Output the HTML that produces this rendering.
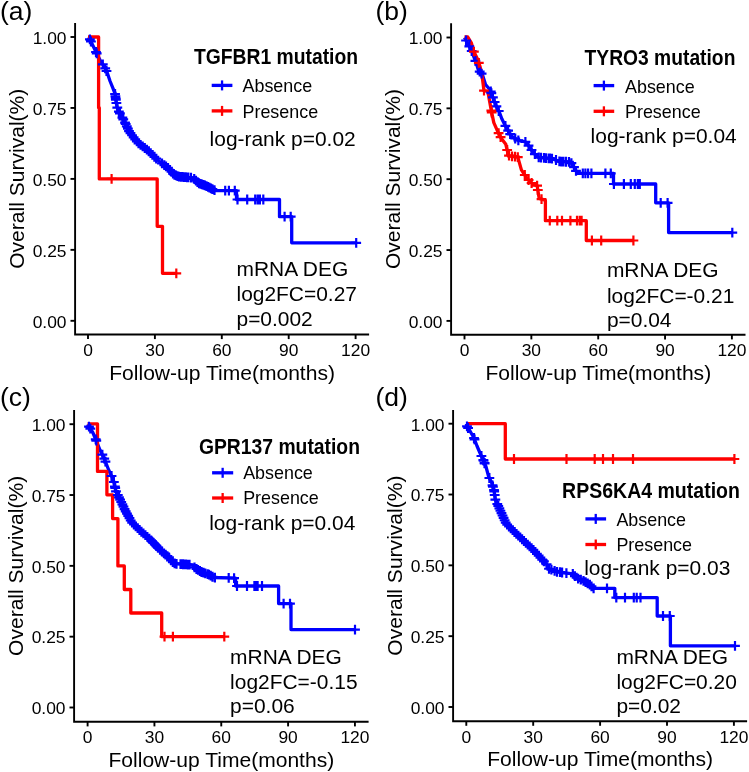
<!DOCTYPE html>
<html><head><meta charset="utf-8"><style>
html,body{margin:0;padding:0;background:#fff;width:749px;height:772px;overflow:hidden}
svg{display:block;filter:blur(0.35px)}
text{font-family:"Liberation Sans",sans-serif;fill:#000}
.tk{font-size:17.4px}
.ax{font-size:21.05px}
.lb{font-size:26.5px}
.tt{font-size:22.2px;font-weight:bold}
.lg{font-size:17.9px}
.an{font-size:20.95px}
</style></head><body>
<svg width="749" height="772" viewBox="0 0 749 772">
<rect width="749" height="772" fill="#fff"/>
<path d="M75.1,23V334.5H369.1" fill="none" stroke="#000" stroke-width="1.9" stroke-linejoin="miter"/>
<path d="M70.5,320.8H75.1" stroke="#000" stroke-width="1.9"/>
<text x="66.5" y="327.6" text-anchor="end" class="tk">0.00</text>
<path d="M70.5,249.85H75.1" stroke="#000" stroke-width="1.9"/>
<text x="66.5" y="256.65" text-anchor="end" class="tk">0.25</text>
<path d="M70.5,178.9H75.1" stroke="#000" stroke-width="1.9"/>
<text x="66.5" y="185.7" text-anchor="end" class="tk">0.50</text>
<path d="M70.5,107.95H75.1" stroke="#000" stroke-width="1.9"/>
<text x="66.5" y="114.75" text-anchor="end" class="tk">0.75</text>
<path d="M70.5,37H75.1" stroke="#000" stroke-width="1.9"/>
<text x="66.5" y="43.8" text-anchor="end" class="tk">1.00</text>
<path d="M88,334.5V339.1" stroke="#000" stroke-width="1.9"/>
<text x="88" y="355.9" text-anchor="middle" class="tk">0</text>
<path d="M154.9,334.5V339.1" stroke="#000" stroke-width="1.9"/>
<text x="154.9" y="355.9" text-anchor="middle" class="tk">30</text>
<path d="M221.8,334.5V339.1" stroke="#000" stroke-width="1.9"/>
<text x="221.8" y="355.9" text-anchor="middle" class="tk">60</text>
<path d="M288.7,334.5V339.1" stroke="#000" stroke-width="1.9"/>
<text x="288.7" y="355.9" text-anchor="middle" class="tk">90</text>
<path d="M355.6,334.5V339.1" stroke="#000" stroke-width="1.9"/>
<text x="355.6" y="355.9" text-anchor="middle" class="tk">120</text>
<text x="222.1" y="379.5" text-anchor="middle" class="ax">Follow-up Time(months)</text>
<text transform="translate(23.5,178.75) rotate(-90)" x="0" y="0" text-anchor="middle" class="ax">Overall Survival(%)</text>
<text x="-0.1" y="20.3" class="lb">(a)</text>
<path d="M88,37.2 L89.5,38.5 L96,52 L101,62 L104,66 L107,72 L110,81 L113,88.4 L115,93.7 L116.4,103 L117.7,109.7 L121.7,116.4 L125.7,124 L129.3,131.7 L138,143 L148,150.4 L158,160.4 L168.5,168.2 L173.9,174.6 L179.2,176.7 L193.1,177.8 L198.5,183.1 L204.9,185.3 L211.3,188.5 L215.6,190.6 L236.5,190.6 L236.5,199.5 L279.5,199.5 L279.5,216.7 L291.7,216.7 L291.7,242.8 L356.2,242.8" fill="none" stroke="#0000ff" stroke-width="3.3" stroke-linejoin="round" stroke-linecap="butt"/>
<path d="M88,37 L98.6,37 L98.6,107.7 L99.3,107.7 L99.3,178.9 L157.2,178.9 L157.2,226.3 L162.5,226.3 L162.5,273.3 L176.3,273.3" fill="none" stroke="#ff0000" stroke-width="3.3" stroke-linejoin="round" stroke-linecap="butt"/>
<path d="M232.6,199.5h9.8M237.5,194.6v9.8M242.3,199.5h9.8M247.2,194.6v9.8M250.3,199.5h9.8M255.2,194.6v9.8M252.8,199.5h9.8M257.7,194.6v9.8M255,199.5h9.8M259.9,194.6v9.8M258.4,199.5h9.8M263.3,194.6v9.8M279.7,216.7h9.8M284.6,211.8v9.8M285.8,216.7h9.8M290.7,211.8v9.8M351.3,242.8h9.8M356.2,237.9v9.8M84.99,39.3h9.8M89.89,34.4v9.8M86.04,41.5h9.8M90.94,36.6v9.8M91.1,52h9.8M96,47.1v9.8M91.8,53.4h9.8M96.7,48.5v9.8M97.9,64.4h9.8M102.8,59.5v9.8M100.3,68.4h9.8M105.2,63.5v9.8M101.6,71h9.8M106.5,66.1v9.8M110.15,94h9.8M115.05,89.1v9.8M110.51,96.4h9.8M115.41,91.5v9.8M110.85,98.7h9.8M115.75,93.8v9.8M111,99.7h9.8M115.9,94.8v9.8M111.5,103h9.8M116.4,98.1v9.8M112.41,107.7h9.8M117.31,102.8v9.8M113.99,111.7h9.8M118.89,106.8v9.8M115.01,113.4h9.8M119.91,108.5v9.8M117.48,117.7h9.8M122.38,112.8v9.8M118.38,119.4h9.8M123.28,114.5v9.8M120.12,122.7h9.8M125.02,117.8v9.8M157.1,163.37h9.8M162,158.47v9.8M159.4,165.08h9.8M164.3,160.18v9.8M161.1,166.34h9.8M166,161.44v9.8M163.1,167.83h9.8M168,162.93v9.8M165.1,169.98h9.8M170,165.08v9.8M166.6,171.76h9.8M171.5,166.86v9.8M168.1,173.53h9.8M173,168.63v9.8M169.6,174.84h9.8M174.5,169.94v9.8M171.1,175.43h9.8M176,170.53v9.8M172.6,176.03h9.8M177.5,171.13v9.8M174.1,176.62h9.8M179,171.72v9.8M176.1,176.84h9.8M181,171.94v9.8M177.5,176.95h9.8M182.4,172.05v9.8M179.1,177.08h9.8M184,172.18v9.8M180.7,177.21h9.8M185.6,172.31v9.8M182.1,177.32h9.8M187,172.42v9.8M183.4,177.42h9.8M188.3,172.52v9.8M186.1,177.63h9.8M191,172.73v9.8M189.3,178.88h9.8M194.2,173.98v9.8M191.1,180.65h9.8M196,175.75v9.8M192.6,182.12h9.8M197.5,177.22v9.8M194.1,183.27h9.8M199,178.37v9.8M195.7,183.82h9.8M200.6,178.92v9.8M197.1,184.3h9.8M202,179.4v9.8M198.6,184.82h9.8M203.5,179.92v9.8M200,185.3h9.8M204.9,180.4v9.8M201.6,186.1h9.8M206.5,181.2v9.8M203.2,186.9h9.8M208.1,182v9.8M204.6,187.6h9.8M209.5,182.7v9.8M206.1,188.35h9.8M211,183.45v9.8M207.5,189.04h9.8M212.4,184.14v9.8M209.6,190.06h9.8M214.5,185.16v9.8M220.3,190.6h9.8M225.2,185.7v9.8M224,190.6h9.8M228.9,185.7v9.8M229.9,190.6h9.8M234.8,185.7v9.8M120.8,124h9.8M125.7,119.1v9.8M121.9,126.36h9.8M126.8,121.46v9.8M123,128.71h9.8M127.9,123.81v9.8M124.1,131.07h9.8M129,126.17v9.8M125.56,133.21h9.8M130.46,128.31v9.8M127.15,135.27h9.8M132.05,130.37v9.8M128.73,137.33h9.8M133.63,132.43v9.8M130.32,139.39h9.8M135.22,134.49v9.8M131.9,141.45h9.8M136.8,136.55v9.8M133.61,143.38h9.8M138.51,138.48v9.8M135.7,144.93h9.8M140.6,140.03v9.8M137.79,146.47h9.8M142.69,141.57v9.8M139.88,148.02h9.8M144.78,143.12v9.8M141.97,149.57h9.8M146.87,144.67v9.8M143.95,151.25h9.8M148.85,146.35v9.8M145.79,153.09h9.8M150.69,148.19v9.8M147.62,154.92h9.8M152.52,150.02v9.8M149.46,156.76h9.8M154.36,151.86v9.8M151.3,158.6h9.8M156.2,153.7v9.8" fill="none" stroke="#0000ff" stroke-width="2.2"/>
<path d="M106.7,178.9h9.8M111.6,174v9.8M171.4,273.3h9.8M176.3,268.4v9.8" fill="none" stroke="#ff0000" stroke-width="2.2"/>
<text x="193.9" y="63.5" class="tt" textLength="164.2" lengthAdjust="spacingAndGlyphs">TGFBR1 mutation</text>
<path d="M211.7,85.4H232.4" stroke="#0000ff" stroke-width="3.3" fill="none"/><path d="M222.05,80.4v10" stroke="#0000ff" stroke-width="2.3" fill="none"/>
<text x="242.5" y="92.1" class="lg">Absence</text>
<path d="M211.7,110.9H232.4" stroke="#ff0000" stroke-width="3.3" fill="none"/><path d="M222.05,105.9v10" stroke="#ff0000" stroke-width="2.3" fill="none"/>
<text x="242.5" y="117.6" class="lg">Presence</text>
<text x="209.6" y="146.3" class="an">log-rank p=0.02</text>
<text x="236.5" y="276.2" class="an">mRNA DEG</text>
<text x="236.5" y="301.2" class="an">log2FC=0.27</text>
<text x="236.5" y="326.1" class="an">p=0.002</text>
<path d="M451.1,23.3V334.8H745.5" fill="none" stroke="#000" stroke-width="1.9" stroke-linejoin="miter"/>
<path d="M446.5,320.9H451.1" stroke="#000" stroke-width="1.9"/>
<text x="442.5" y="327.7" text-anchor="end" class="tk">0.00</text>
<path d="M446.5,250.05H451.1" stroke="#000" stroke-width="1.9"/>
<text x="442.5" y="256.85" text-anchor="end" class="tk">0.25</text>
<path d="M446.5,179.2H451.1" stroke="#000" stroke-width="1.9"/>
<text x="442.5" y="186" text-anchor="end" class="tk">0.50</text>
<path d="M446.5,108.35H451.1" stroke="#000" stroke-width="1.9"/>
<text x="442.5" y="115.15" text-anchor="end" class="tk">0.75</text>
<path d="M446.5,37.5H451.1" stroke="#000" stroke-width="1.9"/>
<text x="442.5" y="44.3" text-anchor="end" class="tk">1.00</text>
<path d="M464.5,334.8V339.4" stroke="#000" stroke-width="1.9"/>
<text x="464.5" y="356.2" text-anchor="middle" class="tk">0</text>
<path d="M531.35,334.8V339.4" stroke="#000" stroke-width="1.9"/>
<text x="531.35" y="356.2" text-anchor="middle" class="tk">30</text>
<path d="M598.2,334.8V339.4" stroke="#000" stroke-width="1.9"/>
<text x="598.2" y="356.2" text-anchor="middle" class="tk">60</text>
<path d="M665.05,334.8V339.4" stroke="#000" stroke-width="1.9"/>
<text x="665.05" y="356.2" text-anchor="middle" class="tk">90</text>
<path d="M731.9,334.8V339.4" stroke="#000" stroke-width="1.9"/>
<text x="731.9" y="356.2" text-anchor="middle" class="tk">120</text>
<text x="598.3" y="379.8" text-anchor="middle" class="ax">Follow-up Time(months)</text>
<text transform="translate(399.5,179.05) rotate(-90)" x="0" y="0" text-anchor="middle" class="ax">Overall Survival(%)</text>
<text x="375.4" y="20" class="lb">(b)</text>
<path d="M464.5,37.5 L466.7,41.7 L471.3,49.8 L473.1,55 L476.2,62.8 L478.5,70.5 L482.4,74.4 L485.5,84.5 L490.2,90 L492.5,96.2 L495.6,104.7 L499.5,112.5 L501.8,118.7 L505.8,126.7 L511.4,136.3 L518.7,140.5 L525.3,141.8 L529.3,146.5 L533.4,153 L538.7,157.4 L553.4,158.7 L558.7,161.4 L570.7,162 L573.4,166 L577.4,173.4 L613.5,173.4 L613.5,184 L655.7,184 L655.7,202.8 L668.6,202.8 L668.6,232.6 L732.3,232.6" fill="none" stroke="#0000ff" stroke-width="3.3" stroke-linejoin="round" stroke-linecap="butt"/>
<path d="M464.5,37 L467.8,37 L471.3,42.8 L473.6,51 L477.8,59.7 L480.1,66.7 L482.4,78.3 L484,90.7 L487.9,91.5 L489.4,100.1 L491.2,110 L493.8,122.7 L497,129.9 L501,137.9 L505.8,144.3 L508.5,155.6 L517.8,157.1 L521.4,169.9 L527.1,178.5 L532.8,184.2 L537.1,185.6 L539.2,198.4 L544.2,199.9 L545.4,200.5 L545.4,220.7 L586.3,220.7 L586.3,240.5 L633.4,240.5" fill="none" stroke="#ff0000" stroke-width="3.3" stroke-linejoin="round" stroke-linecap="butt"/>
<path d="M609,184h9.8M613.9,179.1v9.8M619,184h9.8M623.9,179.1v9.8M625.9,184h9.8M630.8,179.1v9.8M629.9,184h9.8M634.8,179.1v9.8M632.9,184h9.8M637.8,179.1v9.8M634.9,184h9.8M639.8,179.1v9.8M655.8,202.8h9.8M660.7,197.9v9.8M662.7,202.8h9.8M667.6,197.9v9.8M727.4,232.6h9.8M732.3,227.7v9.8M461.17,40.5h9.8M466.07,35.6v9.8M464.41,46.3h9.8M469.31,41.4v9.8M466.82,51h9.8M471.72,46.1v9.8M470.51,60.8h9.8M475.41,55.9v9.8M474.8,71.7h9.8M479.7,66.8v9.8M476.7,73.6h9.8M481.6,68.7v9.8M485.86,91.5h9.8M490.76,86.6v9.8M486.45,93.1h9.8M491.35,88.2v9.8M488,97.3h9.8M492.9,92.4v9.8M489.72,102h9.8M494.62,97.1v9.8M491.5,106.3h9.8M496.4,101.4v9.8M493.85,111h9.8M498.75,106.1v9.8M500.5,125.9h9.8M505.4,121v9.8M503.23,130.7h9.8M508.13,125.8v9.8M505.27,134.2h9.8M510.17,129.3v9.8M510.32,138.5h9.8M515.22,133.6v9.8M513.45,140.3h9.8M518.35,135.4v9.8M520.49,141.9h9.8M525.39,137v9.8M523.63,145.6h9.8M528.53,140.7v9.8M526.61,150h9.8M531.51,145.1v9.8M529.95,154.2h9.8M534.85,149.3v9.8M533.8,157.4h9.8M538.7,152.5v9.8M536.1,157.6h9.8M541,152.7v9.8M539.1,157.87h9.8M544,152.97v9.8M541.1,158.05h9.8M546,153.15v9.8M543.8,158.28h9.8M548.7,153.38v9.8M545.1,158.4h9.8M550,153.5v9.8M547.1,158.58h9.8M552,153.68v9.8M551.1,160.02h9.8M556,155.12v9.8M554.5,161.44h9.8M559.4,156.53v9.8M556.5,161.53h9.8M561.4,156.63v9.8M558.5,161.63h9.8M563.4,156.73v9.8M561.1,161.76h9.8M566,156.86v9.8M564.1,161.91h9.8M569,157.01v9.8M566.5,163.04h9.8M571.4,158.14v9.8M569.1,167.11h9.8M574,162.21v9.8M571.1,170.81h9.8M576,165.91v9.8M577.9,173.4h9.8M582.8,168.5v9.8M580.5,173.4h9.8M585.4,168.5v9.8M583.2,173.4h9.8M588.1,168.5v9.8M586.5,173.4h9.8M591.4,168.5v9.8M600.5,173.4h9.8M605.4,168.5v9.8M605.9,173.4h9.8M610.8,168.5v9.8" fill="none" stroke="#0000ff" stroke-width="2.2"/>
<path d="M504.1,155.6h9.8M509,150.7v9.8M507.1,156.3h9.8M512,151.4v9.8M510.1,156.7h9.8M515,151.8v9.8M512.9,157.1h9.8M517.8,152.2v9.8M544.9,220.7h9.8M549.8,215.8v9.8M552.4,220.7h9.8M557.3,215.8v9.8M557.1,220.7h9.8M562,215.8v9.8M565.5,220.7h9.8M570.4,215.8v9.8M572.1,220.7h9.8M577,215.8v9.8M574.8,220.7h9.8M579.7,215.8v9.8M576.7,220.7h9.8M581.6,215.8v9.8M587,240.5h9.8M591.9,235.6v9.8M596.3,240.5h9.8M601.2,235.6v9.8M628.5,240.5h9.8M633.4,235.6v9.8M468.99,51.6h9.8M473.89,46.7v9.8M473.92,62.8h9.8M478.82,57.9v9.8M479.1,90.7h9.8M484,85.8v9.8M486.42,110.6h9.8M491.32,105.7v9.8M486.81,112.5h9.8M491.71,107.6v9.8M493.7,133.1h9.8M498.6,128.2v9.8M495.7,137.1h9.8M500.6,132.2v9.8M502.26,150h9.8M507.16,145.1v9.8M519.88,175h9.8M524.78,170.1v9.8M523.7,180h9.8M528.6,175.1v9.8M526.7,183h9.8M531.6,178.1v9.8M532.2,185.6h9.8M537.1,180.7v9.8M532.92,190h9.8M537.82,185.1v9.8M536.63,199.1h9.8M541.53,194.2v9.8" fill="none" stroke="#ff0000" stroke-width="2.2"/>
<text x="584.6" y="65" class="tt" textLength="150.8" lengthAdjust="spacingAndGlyphs">TYRO3 mutation</text>
<path d="M593.6,85.6H614.2" stroke="#0000ff" stroke-width="3.3" fill="none"/><path d="M603.9,80.6v10" stroke="#0000ff" stroke-width="2.3" fill="none"/>
<text x="625" y="92.5" class="lg">Absence</text>
<path d="M593.6,111.3H614.2" stroke="#ff0000" stroke-width="3.3" fill="none"/><path d="M603.9,106.3v10" stroke="#ff0000" stroke-width="2.3" fill="none"/>
<text x="625" y="117.7" class="lg">Presence</text>
<text x="590.6" y="143.4" class="an">log-rank p=0.04</text>
<text x="606.9" y="277.3" class="an">mRNA DEG</text>
<text x="606.9" y="302.7" class="an">log2FC=-0.21</text>
<text x="606.9" y="326.6" class="an">p=0.04</text>
<path d="M74.1,410V721.8H368.6" fill="none" stroke="#000" stroke-width="1.9" stroke-linejoin="miter"/>
<path d="M69.5,707.5H74.1" stroke="#000" stroke-width="1.9"/>
<text x="65.5" y="714.3" text-anchor="end" class="tk">0.00</text>
<path d="M69.5,636.67H74.1" stroke="#000" stroke-width="1.9"/>
<text x="65.5" y="643.47" text-anchor="end" class="tk">0.25</text>
<path d="M69.5,565.85H74.1" stroke="#000" stroke-width="1.9"/>
<text x="65.5" y="572.65" text-anchor="end" class="tk">0.50</text>
<path d="M69.5,495.02H74.1" stroke="#000" stroke-width="1.9"/>
<text x="65.5" y="501.82" text-anchor="end" class="tk">0.75</text>
<path d="M69.5,424.2H74.1" stroke="#000" stroke-width="1.9"/>
<text x="65.5" y="431" text-anchor="end" class="tk">1.00</text>
<path d="M87.6,721.8V726.4" stroke="#000" stroke-width="1.9"/>
<text x="87.6" y="743.2" text-anchor="middle" class="tk">0</text>
<path d="M154.43,721.8V726.4" stroke="#000" stroke-width="1.9"/>
<text x="154.43" y="743.2" text-anchor="middle" class="tk">30</text>
<path d="M221.26,721.8V726.4" stroke="#000" stroke-width="1.9"/>
<text x="221.26" y="743.2" text-anchor="middle" class="tk">60</text>
<path d="M288.09,721.8V726.4" stroke="#000" stroke-width="1.9"/>
<text x="288.09" y="743.2" text-anchor="middle" class="tk">90</text>
<path d="M354.92,721.8V726.4" stroke="#000" stroke-width="1.9"/>
<text x="354.92" y="743.2" text-anchor="middle" class="tk">120</text>
<text x="221.35" y="766.8" text-anchor="middle" class="ax">Follow-up Time(months)</text>
<text transform="translate(22.5,565.9) rotate(-90)" x="0" y="0" text-anchor="middle" class="ax">Overall Survival(%)</text>
<text x="0" y="406" class="lb">(c)</text>
<path d="M87.6,424.2 L88.2,425.5 L92.8,432.5 L96,440 L100,450 L104,458 L108.7,470 L113.4,480 L116,491.4 L120,499.4 L125.5,511 L131.6,522.1 L140,530.5 L149.7,538.9 L157.2,546.8 L163.2,552.8 L169.2,557.6 L171.6,561.3 L175.2,563.7 L192.1,564.9 L195.7,568.5 L201.7,572.1 L208.9,574.5 L213.7,577.5 L235.6,578.1 L235.6,586 L278.6,586 L278.6,603.6 L291,603.6 L291,629.6 L355,629.6" fill="none" stroke="#0000ff" stroke-width="3.3" stroke-linejoin="round" stroke-linecap="butt"/>
<path d="M87.6,423.8 L97.5,423.8 L97.5,471.4 L106.9,471.4 L106.9,494.8 L112.6,494.8 L112.6,518.6 L117.9,518.6 L117.9,565.9 L124.3,565.9 L124.3,589.5 L130.8,589.5 L130.8,613 L161.7,613 L161.7,636.7 L224.3,636.7" fill="none" stroke="#ff0000" stroke-width="3.3" stroke-linejoin="round" stroke-linecap="butt"/>
<path d="M232.1,586h9.8M237,581.1v9.8M242.1,586h9.8M247,581.1v9.8M249.5,586h9.8M254.4,581.1v9.8M251.1,586h9.8M256,581.1v9.8M252.7,586h9.8M257.6,581.1v9.8M257.1,586h9.8M262,581.1v9.8M278.7,603.6h9.8M283.6,598.7v9.8M285.1,603.6h9.8M290,598.7v9.8M350.1,629.6h9.8M355,624.7v9.8M84.09,426.7h9.8M88.99,421.8v9.8M85.4,428.7h9.8M90.3,423.8v9.8M90.84,439.4h9.8M95.74,434.5v9.8M91.38,440.7h9.8M96.28,435.8v9.8M97.45,454.7h9.8M102.35,449.8v9.8M99.37,458.7h9.8M104.27,453.8v9.8M100.55,461.7h9.8M105.45,456.8v9.8M106.62,476h9.8M111.52,471.1v9.8M108.96,482h9.8M113.86,477.1v9.8M110.03,486.7h9.8M114.93,481.8v9.8M110.32,488h9.8M115.22,483.1v9.8M111.1,491.4h9.8M116,486.5v9.8M147.1,541.32h9.8M152,536.42v9.8M148.7,543.01h9.8M153.6,538.11v9.8M150.6,545.01h9.8M155.5,540.11v9.8M152.9,547.4h9.8M157.8,542.5v9.8M155.1,549.6h9.8M160,544.7v9.8M157.1,551.6h9.8M162,546.7v9.8M159.1,553.44h9.8M164,548.54v9.8M160.6,554.64h9.8M165.5,549.74v9.8M162.5,556.16h9.8M167.4,551.26v9.8M164.1,557.44h9.8M169,552.54v9.8M166.1,560.38h9.8M171,555.48v9.8M167.9,562.1h9.8M172.8,557.2v9.8M169.7,563.3h9.8M174.6,558.4v9.8M171.6,563.79h9.8M176.5,558.89v9.8M175.6,564.08h9.8M180.5,559.18v9.8M177,564.18h9.8M181.9,559.28v9.8M178.1,564.25h9.8M183,559.35v9.8M179.4,564.35h9.8M184.3,559.45v9.8M181.1,564.47h9.8M186,559.57v9.8M183,564.6h9.8M187.9,559.7v9.8M184.6,564.72h9.8M189.5,559.82v9.8M189.6,567.3h9.8M194.5,562.4v9.8M191.6,568.98h9.8M196.5,564.08v9.8M193.1,569.88h9.8M198,564.98v9.8M195,571.02h9.8M199.9,566.12v9.8M196.6,571.98h9.8M201.5,567.08v9.8M198.6,572.7h9.8M203.5,567.8v9.8M200.4,573.3h9.8M205.3,568.4v9.8M202.8,574.1h9.8M207.7,569.2v9.8M204.1,574.56h9.8M209,569.66v9.8M205.8,575.62h9.8M210.7,570.73v9.8M207.6,576.75h9.8M212.5,571.85v9.8M210,577.53h9.8M214.9,572.63v9.8M223.8,577.91h9.8M228.7,573.01v9.8M229.2,578.06h9.8M234.1,573.16v9.8M112.9,495h9.8M117.8,490.1v9.8M114.06,497.33h9.8M118.96,492.43v9.8M115.22,499.65h9.8M120.12,494.75v9.8M116.33,502h9.8M121.23,497.1v9.8M117.45,504.35h9.8M122.35,499.45v9.8M118.56,506.7h9.8M123.46,501.8v9.8M119.68,509.05h9.8M124.58,504.15v9.8M120.81,511.39h9.8M125.71,506.49v9.8M122.07,513.67h9.8M126.97,508.77v9.8M123.32,515.95h9.8M128.22,511.05v9.8M124.57,518.22h9.8M129.47,513.32v9.8M125.82,520.5h9.8M130.72,515.6v9.8M127.25,522.65h9.8M132.15,517.75v9.8M129.09,524.49h9.8M133.99,519.59v9.8M130.93,526.33h9.8M135.83,521.43v9.8M132.76,528.16h9.8M137.66,523.26v9.8M134.6,530h9.8M139.5,525.1v9.8M136.53,531.74h9.8M141.43,526.84v9.8M138.5,533.44h9.8M143.4,528.54v9.8M140.47,535.15h9.8M145.37,530.25v9.8M142.43,536.85h9.8M147.33,531.95v9.8M144.4,538.55h9.8M149.3,533.65v9.8M146.22,540.4h9.8M151.12,535.5v9.8M148.01,542.28h9.8M152.91,537.38v9.8M149.8,544.17h9.8M154.7,539.27v9.8M151.59,546.06h9.8M156.49,541.16v9.8M153.41,547.91h9.8M158.31,543.01v9.8M155.25,549.75h9.8M160.15,544.85v9.8" fill="none" stroke="#0000ff" stroke-width="2.2"/>
<path d="M159.6,636.7h9.8M164.5,631.8v9.8M168,636.7h9.8M172.9,631.8v9.8M219.4,636.7h9.8M224.3,631.8v9.8" fill="none" stroke="#ff0000" stroke-width="2.2"/>
<text x="198.9" y="454.2" class="tt" textLength="161.1" lengthAdjust="spacingAndGlyphs">GPR137 mutation</text>
<path d="M212.1,472.8H233.2" stroke="#0000ff" stroke-width="3.3" fill="none"/><path d="M222.65,467.8v10" stroke="#0000ff" stroke-width="2.3" fill="none"/>
<text x="243.2" y="479.2" class="lg">Absence</text>
<path d="M212.1,498H233.2" stroke="#ff0000" stroke-width="3.3" fill="none"/><path d="M222.65,493v10" stroke="#ff0000" stroke-width="2.3" fill="none"/>
<text x="243.2" y="504.2" class="lg">Presence</text>
<text x="209.2" y="529.9" class="an">log-rank p=0.04</text>
<text x="230.1" y="664.4" class="an">mRNA DEG</text>
<text x="230.1" y="689" class="an">log2FC=-0.15</text>
<text x="230.1" y="713" class="an">p=0.06</text>
<path d="M453.1,410V721.2H747.1" fill="none" stroke="#000" stroke-width="1.9" stroke-linejoin="miter"/>
<path d="M448.5,707H453.1" stroke="#000" stroke-width="1.9"/>
<text x="444.5" y="713.8" text-anchor="end" class="tk">0.00</text>
<path d="M448.5,636.17H453.1" stroke="#000" stroke-width="1.9"/>
<text x="444.5" y="642.97" text-anchor="end" class="tk">0.25</text>
<path d="M448.5,565.35H453.1" stroke="#000" stroke-width="1.9"/>
<text x="444.5" y="572.15" text-anchor="end" class="tk">0.50</text>
<path d="M448.5,494.52H453.1" stroke="#000" stroke-width="1.9"/>
<text x="444.5" y="501.32" text-anchor="end" class="tk">0.75</text>
<path d="M448.5,423.7H453.1" stroke="#000" stroke-width="1.9"/>
<text x="444.5" y="430.5" text-anchor="end" class="tk">1.00</text>
<path d="M466.3,721.2V725.8" stroke="#000" stroke-width="1.9"/>
<text x="466.3" y="742.6" text-anchor="middle" class="tk">0</text>
<path d="M533.2,721.2V725.8" stroke="#000" stroke-width="1.9"/>
<text x="533.2" y="742.6" text-anchor="middle" class="tk">30</text>
<path d="M600.1,721.2V725.8" stroke="#000" stroke-width="1.9"/>
<text x="600.1" y="742.6" text-anchor="middle" class="tk">60</text>
<path d="M667,721.2V725.8" stroke="#000" stroke-width="1.9"/>
<text x="667" y="742.6" text-anchor="middle" class="tk">90</text>
<path d="M733.9,721.2V725.8" stroke="#000" stroke-width="1.9"/>
<text x="733.9" y="742.6" text-anchor="middle" class="tk">120</text>
<text x="600.1" y="766.2" text-anchor="middle" class="ax">Follow-up Time(months)</text>
<text transform="translate(401.5,565.6) rotate(-90)" x="0" y="0" text-anchor="middle" class="ax">Overall Survival(%)</text>
<text x="375.4" y="405.6" class="lb">(d)</text>
<path d="M466.3,423.7 L467,426.3 L470,431 L474,438 L477,446 L480,453 L483.3,460 L486,466.7 L488.7,476.7 L491.4,482 L494,490 L495.4,500 L498.7,506.9 L506.2,523.7 L518.4,535.8 L532.4,548.9 L543.6,561.1 L546.5,564 L548.2,568.5 L551.4,569.6 L556.8,571.8 L572.8,573.9 L577,578.2 L582.4,580.3 L589.9,584.6 L593.1,588.3 L614.8,588.3 L614.8,597.6 L657.2,597.6 L657.2,616 L670.4,616 L670.4,645.8 L735,645.8" fill="none" stroke="#0000ff" stroke-width="3.3" stroke-linejoin="round" stroke-linecap="butt"/>
<path d="M466.3,423.7 L505.3,423.7 L505.3,459 L734.4,459" fill="none" stroke="#ff0000" stroke-width="3.3" stroke-linejoin="round" stroke-linecap="butt"/>
<path d="M611.4,597.6h9.8M616.3,592.7v9.8M620.1,597.6h9.8M625,592.7v9.8M628.9,597.6h9.8M633.8,592.7v9.8M631.8,597.6h9.8M636.7,592.7v9.8M635.6,597.6h9.8M640.5,592.7v9.8M658.1,616h9.8M663,611.1v9.8M664.9,616h9.8M669.8,611.1v9.8M730.1,645.8h9.8M735,640.9v9.8M462.1,426.3h9.8M467,421.4v9.8M463.19,428h9.8M468.09,423.1v9.8M469.1,438h9.8M474,433.1v9.8M469.62,439.4h9.8M474.52,434.5v9.8M476.51,456h9.8M481.41,451.1v9.8M478.4,460h9.8M483.3,455.1v9.8M478.68,460.7h9.8M483.58,455.8v9.8M479.61,463h9.8M484.51,458.1v9.8M479.77,463.4h9.8M484.67,458.5v9.8M484.46,478h9.8M489.36,473.1v9.8M487.61,485.4h9.8M492.5,480.5v9.8M488.03,486.7h9.8M492.93,481.8v9.8M489.1,490h9.8M494,485.1v9.8M489.3,491.4h9.8M494.2,486.5v9.8M489.8,495h9.8M494.7,490.1v9.8M490.46,499.7h9.8M495.36,494.8v9.8M492.41,504h9.8M497.31,499.1v9.8M541.7,564.26h9.8M546.6,559.36v9.8M544.1,568.77h9.8M549,563.88v9.8M546.5,569.6h9.8M551.4,564.7v9.8M549.7,570.9h9.8M554.6,566v9.8M552.1,571.83h9.8M557,566.93v9.8M555.1,572.22h9.8M560,567.32v9.8M557.2,572.5h9.8M562.1,567.6v9.8M561.5,573.06h9.8M566.4,568.16v9.8M567.9,573.9h9.8M572.8,569v9.8M570,576.05h9.8M574.9,571.15v9.8M573.2,578.63h9.8M578.1,573.73v9.8M575.9,579.68h9.8M580.8,574.78v9.8M578.6,580.93h9.8M583.5,576.03v9.8M580.7,582.13h9.8M585.6,577.23v9.8M582.8,583.34h9.8M587.7,578.44v9.8M585,584.6h9.8M589.9,579.7v9.8M586.6,586.45h9.8M591.5,581.55v9.8M588.7,588.3h9.8M593.6,583.4v9.8M602.1,588.3h9.8M607,583.4v9.8M493.37,506h9.8M498.27,501.1v9.8M494.45,508.36h9.8M499.35,503.46v9.8M495.51,510.74h9.8M500.41,505.84v9.8M496.57,513.11h9.8M501.47,508.21v9.8M497.63,515.49h9.8M502.53,510.59v9.8M498.69,517.86h9.8M503.59,512.96v9.8M499.75,520.23h9.8M504.65,515.33v9.8M500.81,522.61h9.8M505.71,517.71v9.8M502.3,524.69h9.8M507.2,519.79v9.8M504.14,526.52h9.8M509.04,521.62v9.8M505.99,528.35h9.8M510.89,523.45v9.8M507.84,530.18h9.8M512.74,525.28v9.8M509.68,532.01h9.8M514.58,527.11v9.8M511.53,533.84h9.8M516.43,528.94v9.8M513.37,535.67h9.8M518.27,530.77v9.8M515.27,537.45h9.8M520.17,532.55v9.8M517.17,539.23h9.8M522.07,534.33v9.8M519.07,541.01h9.8M523.97,536.11v9.8M520.96,542.78h9.8M525.86,537.88v9.8M522.86,544.56h9.8M527.76,539.66v9.8M524.76,546.34h9.8M529.66,541.44v9.8M526.66,548.11h9.8M531.56,543.21v9.8M528.48,549.97h9.8M533.38,545.07v9.8M530.24,551.88h9.8M535.14,546.98v9.8M532,553.8h9.8M536.9,548.9v9.8M533.75,555.71h9.8M538.65,550.81v9.8M535.51,557.63h9.8M540.41,552.73v9.8M537.27,559.54h9.8M542.17,554.64v9.8M539.04,561.44h9.8M543.94,556.54v9.8" fill="none" stroke="#0000ff" stroke-width="2.2"/>
<path d="M509.1,459h9.8M514,454.1v9.8M561.6,459h9.8M566.5,454.1v9.8M589.8,459h9.8M594.7,454.1v9.8M598.1,459h9.8M603,454.1v9.8M608.1,459h9.8M613,454.1v9.8M628.1,459h9.8M633,454.1v9.8M729.5,459h9.8M734.4,454.1v9.8" fill="none" stroke="#ff0000" stroke-width="2.2"/>
<text x="562.1" y="497.5" class="tt" textLength="177.8" lengthAdjust="spacingAndGlyphs">RPS6KA4 mutation</text>
<path d="M585.4,518.9H606.1" stroke="#0000ff" stroke-width="3.3" fill="none"/><path d="M595.75,513.9v10" stroke="#0000ff" stroke-width="2.3" fill="none"/>
<text x="616.4" y="525.6" class="lg">Absence</text>
<path d="M585.4,544.5H606.1" stroke="#ff0000" stroke-width="3.3" fill="none"/><path d="M595.75,539.5v10" stroke="#ff0000" stroke-width="2.3" fill="none"/>
<text x="616.4" y="550.6" class="lg">Presence</text>
<text x="584.2" y="574.9" class="an">log-rank p=0.03</text>
<text x="616.4" y="664.3" class="an">mRNA DEG</text>
<text x="616.4" y="688.7" class="an">log2FC=0.20</text>
<text x="616.4" y="712.6" class="an">p=0.02</text>
</svg>
</body></html>
